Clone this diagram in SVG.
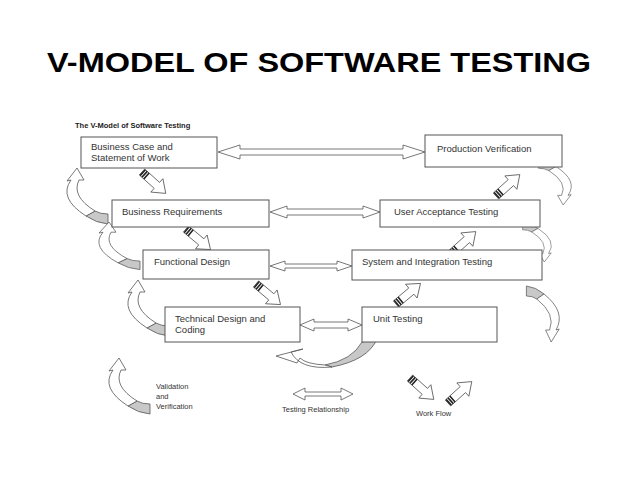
<svg xmlns="http://www.w3.org/2000/svg" width="638" height="479" viewBox="0 0 638 479">
<style>
.box{fill:#fff;stroke:#555;stroke-width:1}
.t{font-family:"Liberation Sans",Arial,sans-serif;font-size:9.5px;fill:#333}
.sm{font-family:"Liberation Sans",Arial,sans-serif;font-size:7.5px;fill:#333}
.ol{fill:#fff;stroke:#555;stroke-width:0.8}
.gr{fill:#c8c8c8;stroke:#555;stroke-width:0.8}
</style>
<defs>
<g id="wf">
<path class="ol" d="M0,-4 L20,-4 L20,-9 L32,0 L20,9 L20,4 L0,4 Z"/>
<path d="M1,-4V4M3.5,-4V4M6,-4V4" stroke="#222" stroke-width="1.6"/>
</g>
<g id="vv">
<path class="gr" d="M20,48 Q30,55 42,56 L42,46 Q34,46 29,43 Z"/>
<path class="ol" d="M20,48 Q-8,30 5,12 L1,13 L11,0 L18,12 L13,12 Q5,28 29,43 Z"/>
</g>
<g id="dbl">
<path class="ol" d="M0,0 L12,-6 L12,-2 L48,-2 L48,-6 L60,0 L48,6 L48,2 L12,2 L12,6 Z"/>
</g>
</defs>
<text x="319" y="72" text-anchor="middle" font-family="'Liberation Sans',Arial,sans-serif" font-weight="bold" font-size="27" fill="#000" textLength="544" lengthAdjust="spacingAndGlyphs">V-MODEL OF SOFTWARE TESTING</text>
<text x="75" y="128" font-family="'Liberation Sans',Arial,sans-serif" font-weight="bold" font-size="7.5" fill="#222">The V-Model of Software Testing</text>

<g id="connectors">
<path class="ol" d="M218,152 L240,145 L240,149 L403,149 L403,145 L425,152 L403,159 L403,155 L240,155 L240,159 Z"/>
<path class="ol" d="M270,212 L287,206 L287,209 L363,209 L363,206 L380,212 L363,218 L363,215 L287,215 L287,218 Z"/>
<path class="ol" d="M270,266 L285,261 L285,264 L337,264 L337,261 L352,266 L337,271 L337,268 L285,268 L285,271 Z"/>
<path class="ol" d="M300,325 L314,319 L314,322 L348,322 L348,319 L362,325 L348,331 L348,328 L314,328 L314,331 Z"/>
<use href="#wf" transform="translate(142,172) rotate(42)"/>
<use href="#wf" transform="translate(186,229) rotate(40)"/>
<use href="#wf" transform="translate(256,284) rotate(40)"/>
<use href="#wf" transform="translate(496,196) rotate(-42)"/>
<use href="#wf" transform="translate(452,253) rotate(-42)"/>
<use href="#wf" transform="translate(396,304) rotate(-40)"/>
<use href="#vv" transform="translate(66,168)"/>
<use href="#vv" transform="translate(98,222) scale(1,0.85)"/>
<use href="#vv" transform="translate(127,280)"/>
<use href="#vv" transform="translate(572,205) scale(-0.8,-0.8)"/>
<use href="#vv" transform="translate(552,262) scale(-0.7,-0.7)"/>
<use href="#vv" transform="translate(560,342) scale(-0.8,-1)"/>
<path class="gr" d="M332,367 Q368,360 377,339 L362,342 Q352,360 325,365 Z"/>
<path class="ol" d="M332,367 Q300,370 291,352 L303,349 L276,356 L297,363 L300,358 Q306,364 325,365 Z"/>
</g>

<g id="n1"><rect class="box" x="81" y="137" width="136" height="31"/><text class="t" x="91" y="150">Business Case and</text><text class="t" x="91" y="161">Statement of Work</text></g>
<g id="n2"><rect class="box" x="425" y="135" width="137" height="32"/><text class="t" x="437" y="152">Production Verification</text></g>
<g id="n3"><rect class="box" x="112" y="200" width="157" height="27"/><text class="t" x="122" y="215">Business Requirements</text></g>
<g id="n4"><rect class="box" x="380" y="200" width="160" height="27"/><text class="t" x="394" y="215">User Acceptance Testing</text></g>
<g id="n5"><rect class="box" x="143" y="250" width="126" height="29"/><text class="t" x="154" y="265">Functional Design</text></g>
<g id="n6"><rect class="box" x="352" y="250" width="190" height="30"/><text class="t" x="362" y="265">System and Integration Testing</text></g>
<g id="n7"><rect class="box" x="165" y="307" width="135" height="35"/><text class="t" x="175" y="322">Technical Design and</text><text class="t" x="175" y="333">Coding</text></g>
<g id="n8"><rect class="box" x="362" y="307" width="135" height="35"/><text class="t" x="373" y="322">Unit Testing</text></g>

<g id="legend">
<use href="#vv" transform="translate(108,358)"/>
<text class="sm" x="156" y="389">Validation</text>
<text class="sm" x="156" y="399">and</text>
<text class="sm" x="156" y="409">Verification</text>
<use href="#dbl" transform="translate(293,394)"/>
<text class="sm" x="282" y="412">Testing Relationship</text>
<use href="#wf" transform="translate(410,378) rotate(42)"/>
<use href="#wf" transform="translate(448,403) rotate(-42)"/>
<text class="sm" x="416" y="416">Work Flow</text>
</g>
</svg>
